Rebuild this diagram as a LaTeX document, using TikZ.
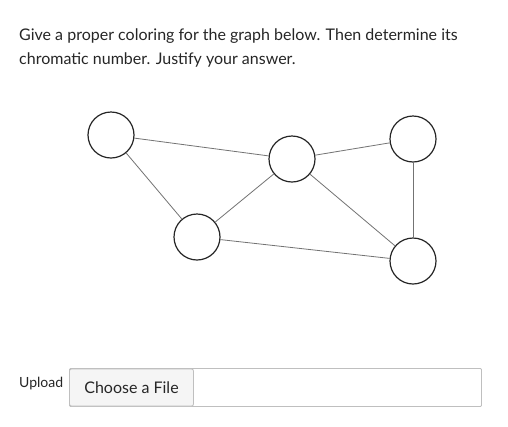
\documentclass[tikz,border=0pt]{standalone}
\usepackage{fontspec}
\setmainfont{Lato}
\begin{document}
\begin{tikzpicture}[x=1pt,y=-1pt,
  vert/.style={circle,draw=black!85,line width=1.2pt,minimum size=46pt,inner sep=0pt,fill=white},
  edge/.style={draw=black!55,line width=0.8pt},
  txt/.style={anchor=base west,inner sep=0pt,text=black!85}]
\useasboundingbox[fill=white] (0,0) rectangle (508,426);
\node[txt,font=\fontsize{16}{20}\selectfont] (l1) at (19,40) {Give a proper coloring for the graph below. Then determine its};
\node[txt,font=\fontsize{16}{20}\selectfont] (l2) at (19,64) {chromatic number. Justify your answer.};
\node[vert] (a) at (111,135) {};
\node[vert] (b) at (292,159) {};
\node[vert] (c) at (413,139) {};
\node[vert] (d) at (197,237) {};
\node[vert] (e) at (413,261) {};
\begin{scope}[on background layer/.try]
\end{scope}
\draw[edge] (a) -- (b);
\draw[edge] (a) -- (d);
\draw[edge] (b) -- (d);
\draw[edge] (b) -- (c);
\draw[edge] (b) -- (e);
\draw[edge] (c) -- (e);
\draw[edge] (d) -- (e);
\node[txt,font=\fontsize{14}{17}\selectfont] (up) at (19,387) {Upload};
\draw[draw=black!25,line width=0.8pt,rounded corners=1pt] (69.5,368.5) rectangle (481.5,406.5);
\node[draw=black!25,fill=black!4,line width=0.8pt,rounded corners=2pt,minimum width=124pt,minimum height=37pt,inner sep=0pt,font=\fontsize{16}{20}\selectfont,text=black!85] (btn) at (131.5,387.5) {Choose a File};
\end{tikzpicture}
\end{document}
